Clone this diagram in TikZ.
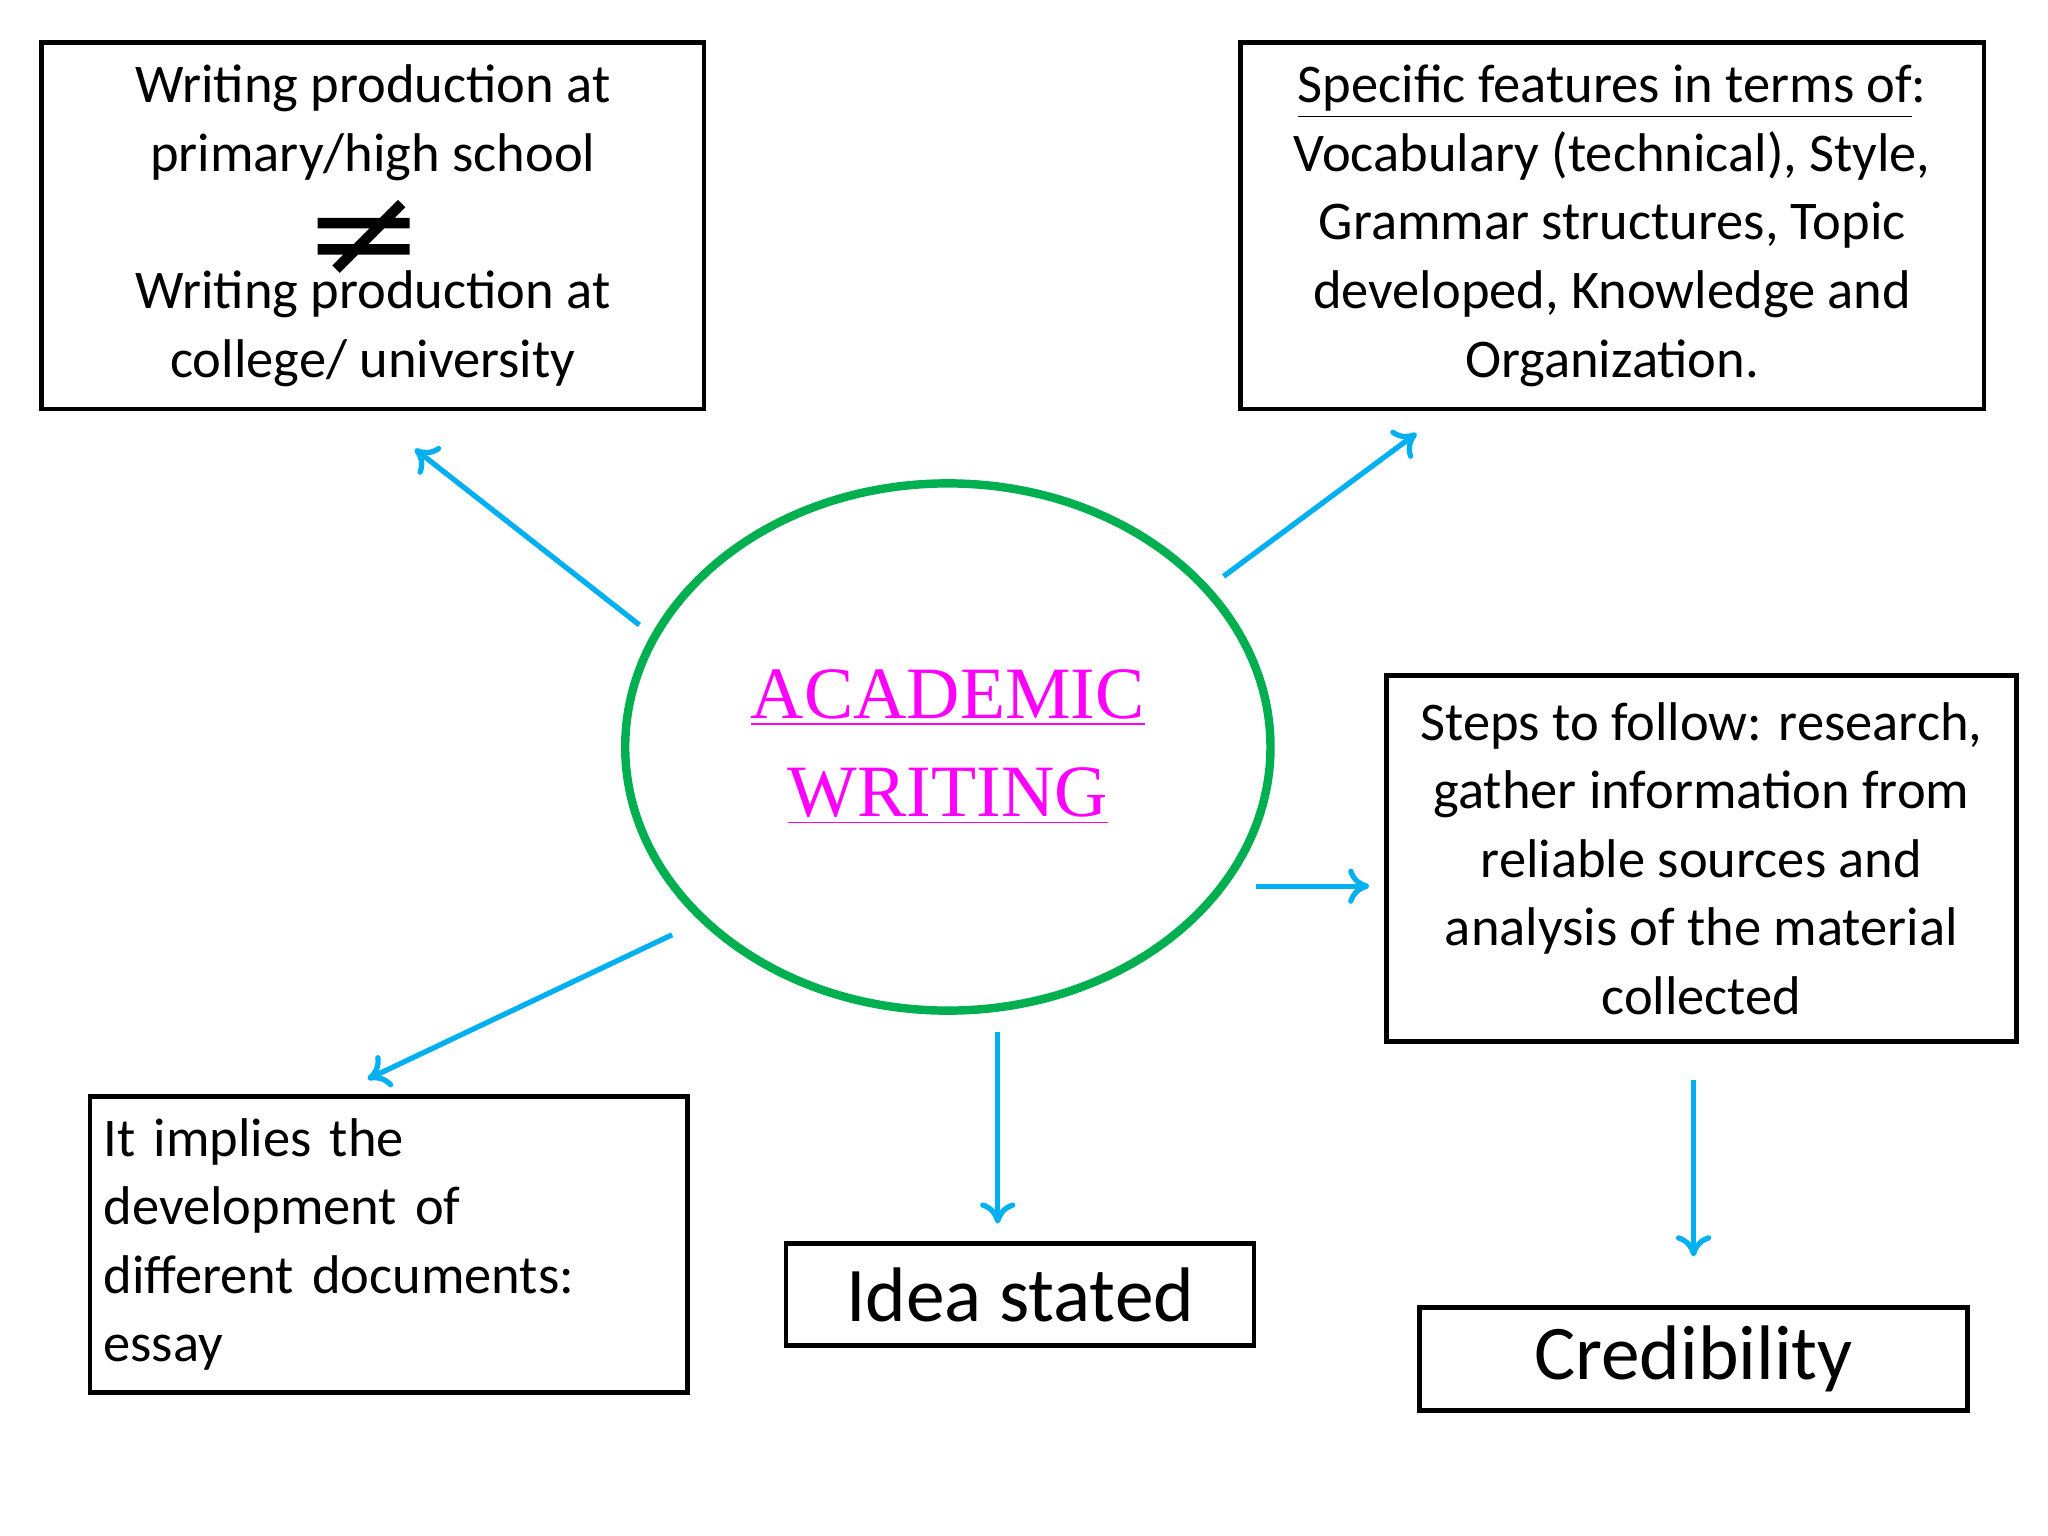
\documentclass[tikz,border=0pt]{standalone}
\usepackage{fontspec}
\setmainfont{Carlito}
\newfontfamily\serifface{Liberation Serif}
\usetikzlibrary{arrows.meta,shapes.geometric}
\definecolor{arrowblue}{RGB}{0,176,240}
\definecolor{ringgreen}{RGB}{0,176,80}
\definecolor{titlepink}{RGB}{255,0,255}
\tikzset{
  box/.style={draw, line width=1.3pt, align=center, font=\fontsize{15.5}{19.5}\selectfont, inner sep=2pt, outer sep=0pt},
  link/.style={draw=arrowblue, line width=1.5pt, -{To[length=6pt,width=10pt]}}
}
\begin{document}
\begin{tikzpicture}[x=0.013128cm, y=-0.013128cm]
% Page
\useasboundingbox (0,0) rectangle (1560,1170);

% Centre ellipse
\node[ellipse, draw=ringgreen, line width=2.4pt, minimum width=6.45cm, minimum height=5.27cm, align=center,
  font=\serifface\fontsize{21}{28}\selectfont, text=titlepink] (aw) at (722,569)
  {\underline{ACADEMIC}\\\underline{WRITING}};

% Boxes
\node[box, minimum width=6.62cm, minimum height=3.66cm] (school) at (284,172)
  {Writing production at\\primary/high school\\[19.5pt]Writing production at\\college/ university};
\node[box, minimum width=7.43cm, minimum height=3.66cm] (feat) at (1228,172)
  {\underline{Specific features in terms of}:\\Vocabulary (technical), Style,\\Grammar structures, Topic\\developed, Knowledge and\\Organization.};
\node[box, minimum width=6.3cm, minimum height=3.66cm] (steps) at (1296,654)
  {Steps to follow: research,\\gather information from\\reliable sources and\\analysis of the material\\collected};
\node[box, minimum width=5.97cm, minimum height=2.96cm, align=left, text width=5.7cm] (docs) at (296,948)
  {It implies the\\development of\\different documents:\\essay};
\node[box, minimum width=4.68cm, minimum height=1.02cm, font=\fontsize{22}{26}\selectfont] (idea) at (777,986) {Idea stated};
\node[box, minimum width=5.48cm, minimum height=1.03cm, font=\fontsize{22}{26}\selectfont] (cred) at (1290,1035) {Credibility};

% Not-equal sign
\draw[line width=3pt] (242,170) -- (312,170) (242,190) -- (312,190) (256,205) -- (306,155);

% Arrow ends
\coordinate (a1s) at (487,476); \coordinate (a1e) at (316,342);
\coordinate (a2s) at (932,439); \coordinate (a2e) at (1079,330);
\coordinate (a3s) at (957,675); \coordinate (a3e) at (1043,675);
\coordinate (a4s) at (512,712); \coordinate (a4e) at (280,822);
\coordinate (a5s) at (760,786); \coordinate (a5e) at (760,932);
\coordinate (a6s) at (1290,823); \coordinate (a6e) at (1290,957);

% Arrows
\draw[link] (a1s) -- (a1e);
\draw[link] (a2s) -- (a2e);
\draw[link] (a3s) -- (a3e);
\draw[link] (a4s) -- (a4e);
\draw[link] (a5s) -- (a5e);
\draw[link] (a6s) -- (a6e);
\end{tikzpicture}
\end{document}
